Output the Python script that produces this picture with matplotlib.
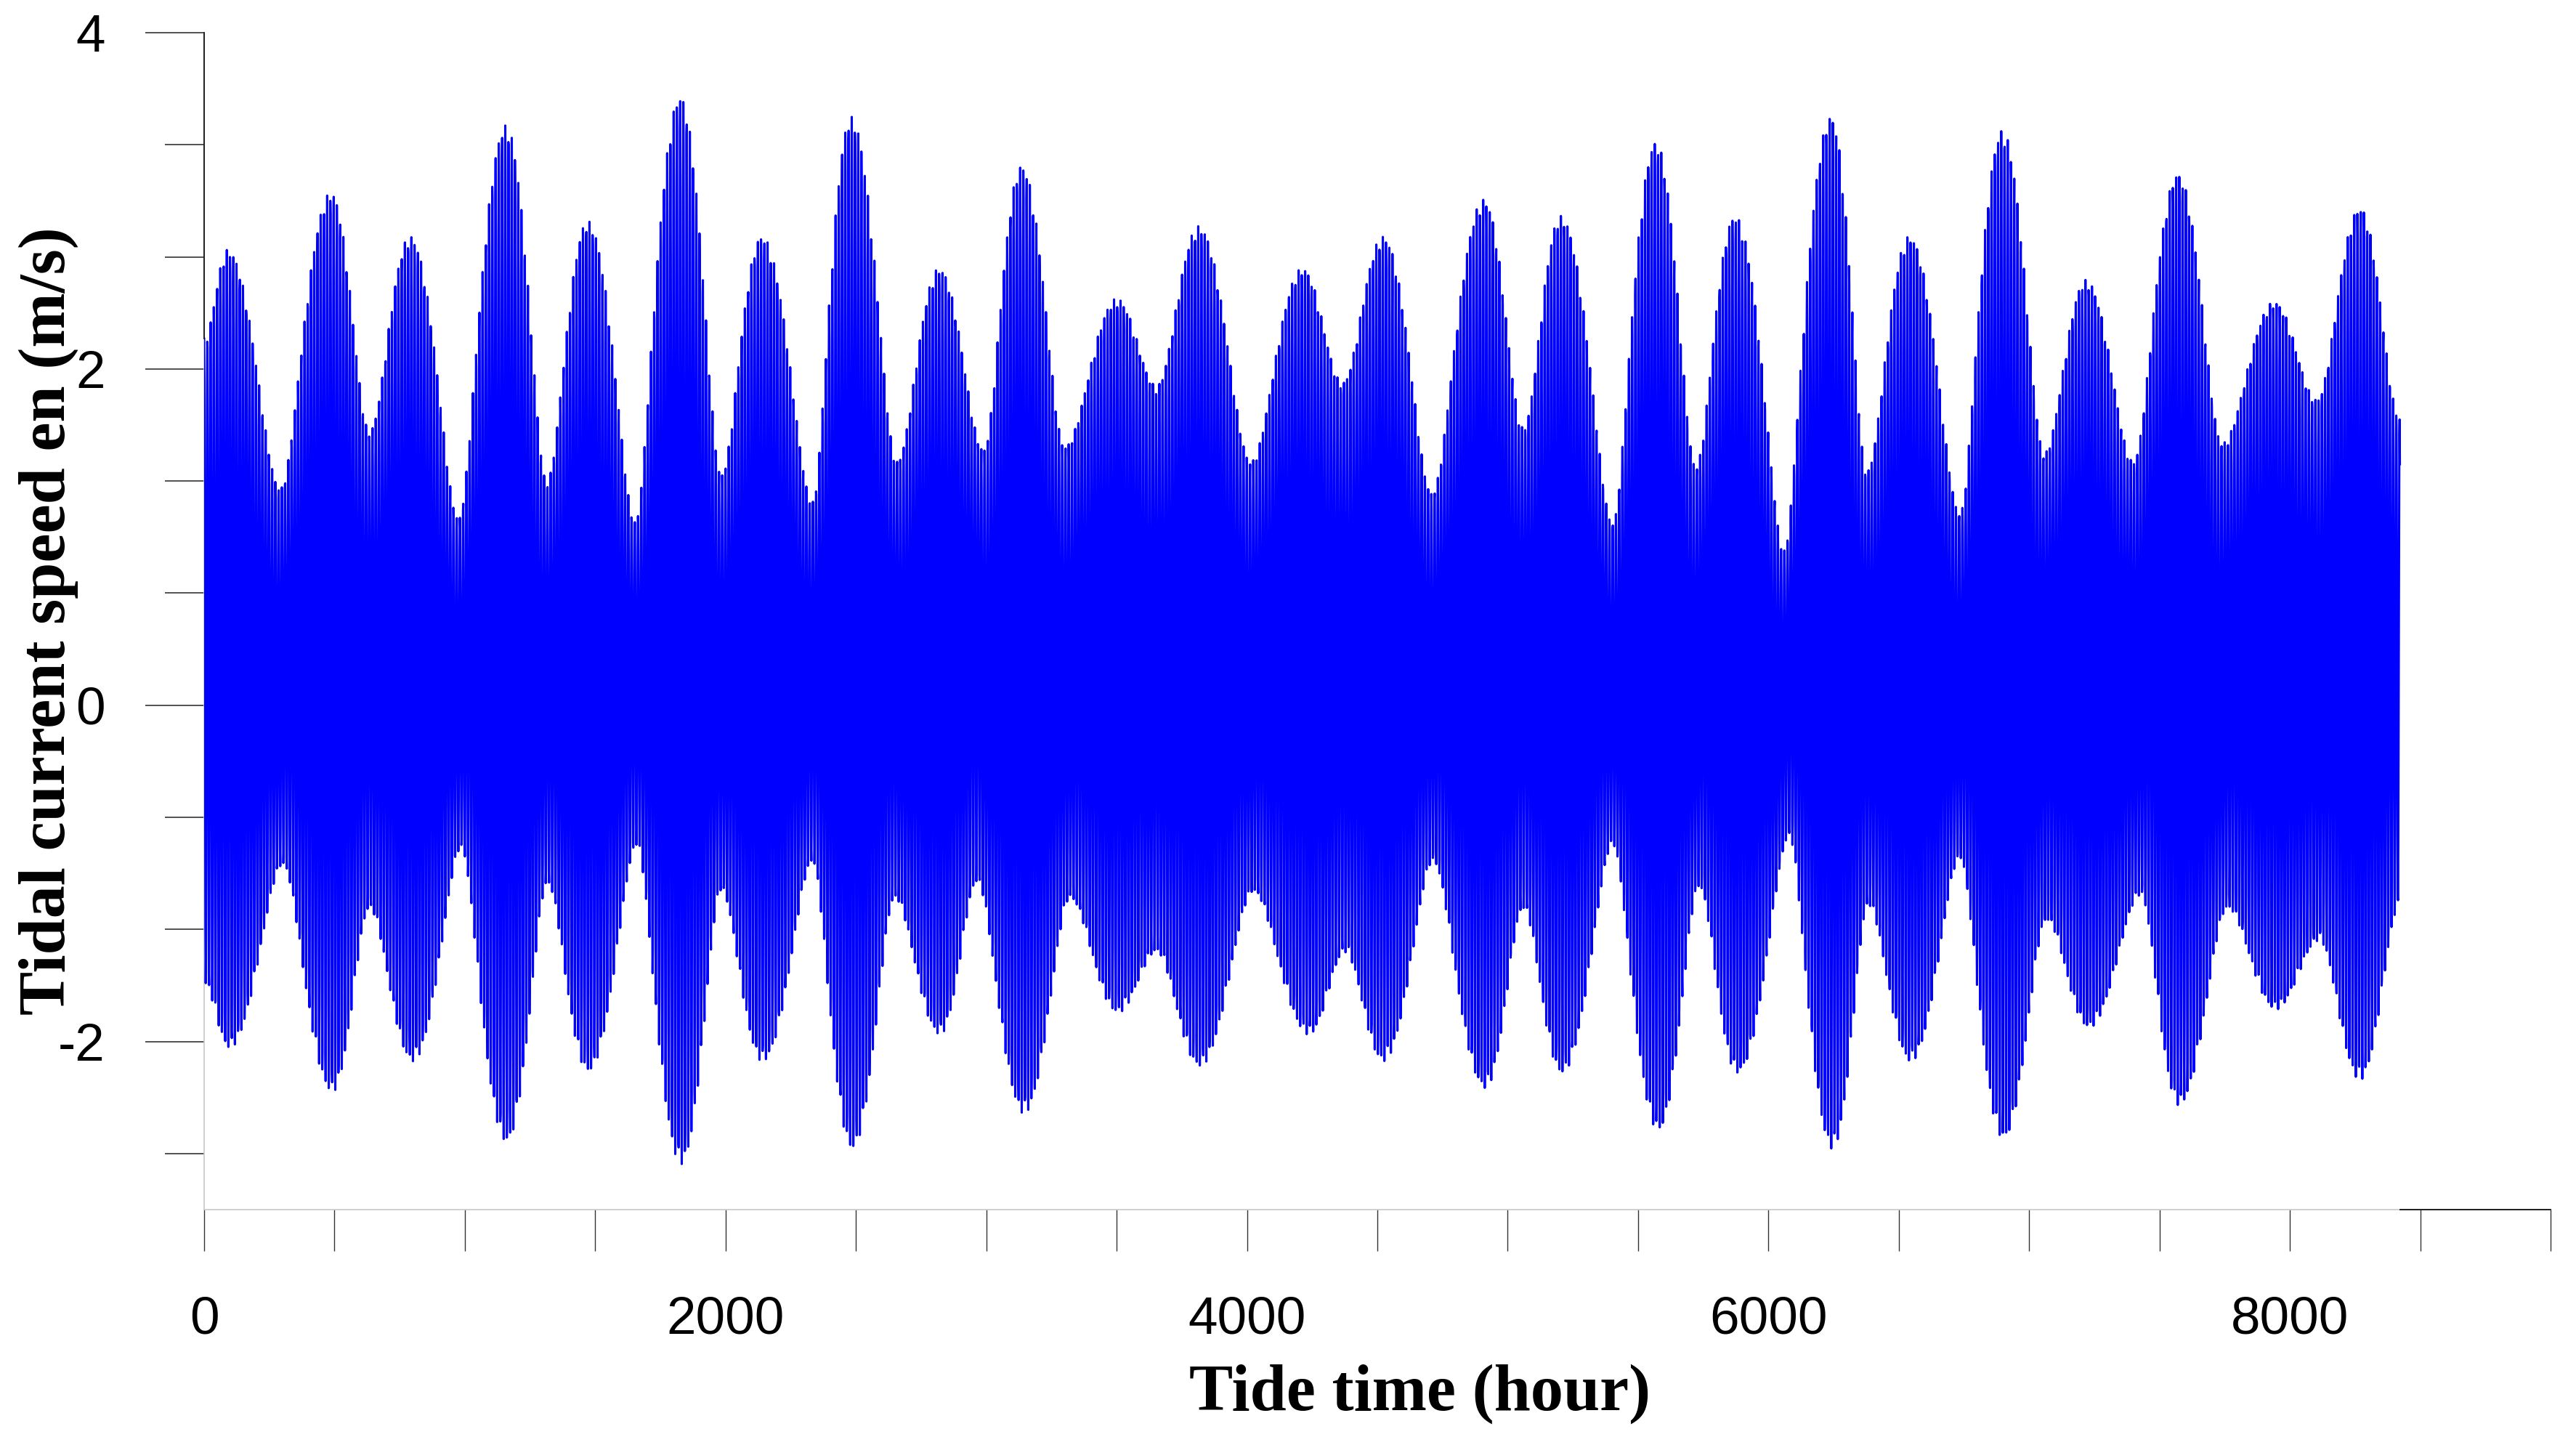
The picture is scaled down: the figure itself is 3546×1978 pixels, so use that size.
import numpy as np
import matplotlib
matplotlib.use("Agg")
import matplotlib.pyplot as plt
from matplotlib.ticker import FixedLocator, NullFormatter, FixedFormatter

# ---------------- data ----------------
# Upper envelope of the hourly tidal current (alternating spring peaks / neap dips)
upper_hours = [0, 90, 292, 487, 634, 790, 976, 1158, 1314, 1471, 1654, 1826, 1983,
               2139, 2334, 2481, 2657, 2819, 2990, 3135, 3301, 3502, 3653, 3815,
               4015, 4213, 4366, 4522, 4709, 4909, 5060, 5203, 5403, 5568, 5721,
               5871, 6060, 6240, 6377, 6540, 6735, 6897, 7058, 7218, 7400, 7570,
               7741, 7941, 8103, 8269, 8422]
upper_speed = [2.18, 2.71, 1.29, 3.05, 1.63, 2.79, 1.11, 3.45, 1.33, 2.88, 1.09, 3.62, 1.37,
               2.79, 1.21, 3.50, 1.45, 2.60, 1.52, 3.21, 1.54, 2.42, 1.90, 2.85,
               1.45, 2.60, 1.92, 2.79, 1.26, 3.01, 1.65, 2.91, 1.08, 3.35, 1.42,
               2.91, 0.92, 3.50, 1.39, 2.79, 1.14, 3.42, 1.50, 2.53, 1.45, 3.16,
               1.56, 2.40, 1.82, 2.96, 1.71]
# Lower envelope (ebb extremes / neap minima)
lower_hours = [0, 96, 302, 492, 634, 800, 986, 1160, 1317, 1473, 1660, 1830, 1983,
               2142, 2334, 2486, 2649, 2822, 2965, 3145, 3321, 3505, 3653, 3818,
               4024, 4239, 4376, 4522, 4714, 4914, 5060, 5207, 5403, 5578, 5734,
               5881, 6080, 6246, 6383, 6545, 6735, 6901, 7067, 7229, 7428, 7575,
               7761, 7946, 8113, 8269, 8422]
lower_speed = [-1.66, -2.04, -0.95, -2.30, -1.21, -2.12, -0.85, -2.60, -1.06, -2.18, -0.83, -2.73, -1.10,
               -2.12, -0.93, -2.64, -1.15, -1.96, -1.05, -2.43, -1.15, -1.83, -1.47, -2.15,
               -1.11, -1.96, -1.47, -2.12, -0.93, -2.28, -1.21, -2.19, -0.83, -2.53, -1.08,
               -2.19, -0.78, -2.64, -1.19, -2.12, -0.91, -2.58, -1.28, -1.92, -1.13, -2.38,
               -1.21, -1.81, -1.40, -2.23, -1.19]
record_end_hour = 8422
semidiurnal_period_h = 12.42

x_major_ticks = [0, 2000, 4000, 6000, 8000]
x_major_labels = ["0", "2000", "4000", "6000", "8000"]
y_major_ticks = [4, 2, 0, -2]
y_major_labels = ["4", "2", "0", "-2"]
x_label = "Tide time (hour)"
y_label = "Tidal current speed en (m/s)"


def beat_envelope(t, kt, kv):
    """Envelope between read keypoints, shaped like a two-constituent beat."""
    kt = np.asarray(kt, float)
    kv = np.abs(np.asarray(kv, float))
    idx = np.clip(np.searchsorted(kt, t, side="right") - 1, 0, len(kt) - 2)
    t0, t1 = kt[idx], kt[idx + 1]
    v0, v1 = kv[idx], kv[idx + 1]
    s = np.clip((t - t0) / (t1 - t0), 0, 1)
    hi = np.maximum(v0, v1)
    lo = np.minimum(v0, v1)
    phi = np.where(v0 >= v1, np.pi * s, np.pi * (1 - s))
    a = (hi + lo) / 2
    b = (hi - lo) / 2
    return np.sqrt(a * a + b * b + 2 * a * b * np.cos(phi))


hours = np.arange(0, record_end_hour + 1, 1.0)
upper = beat_envelope(hours, upper_hours, upper_speed)
lower = -beat_envelope(hours, lower_hours, lower_speed)
speed = (upper + lower) / 2 + (upper - lower) / 2 * np.cos(2 * np.pi * hours / semidiurnal_period_h)

# ---------------- figure ----------------
W, H, DPI = 3546, 1978, 100
fig = plt.figure(figsize=(W / DPI, H / DPI), dpi=DPI)
ax = fig.add_axes([281 / W, 1 - 1665 / H, (3511 - 281) / W, (1665 - 45) / H])

ax.plot(hours, speed, color="#0000ff", lw=2.2, zorder=3)

ax.set_xlim(0, 9000)
ax.set_ylim(-3, 4)

for s in ["top", "right"]:
    ax.spines[s].set_visible(False)
ax.spines["left"].set_color("#c8c8c8")
ax.spines["bottom"].set_color("#c8c8c8")
ax.spines["left"].set_linewidth(1.2)
ax.spines["bottom"].set_linewidth(1.2)
# black parts of the frame (outside the data extent)
ax.axvline(0, ymin=(upper_speed[0] + 3) / 7, ymax=1, color="#111111", lw=1.3, zorder=4, clip_on=False)
ax.axhline(-3, xmin=record_end_hour / 9000, xmax=1, color="#111111", lw=1.3, zorder=4, clip_on=False)

# x ticks
ax.xaxis.set_major_locator(FixedLocator(x_major_ticks))
ax.xaxis.set_major_formatter(FixedFormatter(x_major_labels))
ax.xaxis.set_minor_locator(FixedLocator([v for v in range(0, 9001, 500) if v not in x_major_ticks]))
ax.xaxis.set_minor_formatter(NullFormatter())
ax.tick_params(axis="x", which="both", direction="out", length=41, width=1.0, color="#333333")
ax.tick_params(axis="x", which="major", pad=44, labelsize=52.5)

# y ticks
y_all = [4 - k * 2 / 3 for k in range(11)]
ax.yaxis.set_major_locator(FixedLocator(y_major_ticks))
ax.yaxis.set_major_formatter(FixedFormatter(y_major_labels))
ax.yaxis.set_minor_locator(FixedLocator([v for v in y_all if min(abs(v - m) for m in y_major_ticks) > 1e-6]))
ax.yaxis.set_minor_formatter(NullFormatter())
ax.tick_params(axis="y", which="major", direction="out", length=58, width=1.2, color="#333333",
               pad=40, labelsize=52.5)
ax.tick_params(axis="y", which="minor", direction="out", length=39, width=1.2, color="#333333")

for lab in ax.get_xticklabels() + ax.get_yticklabels():
    lab.set_fontfamily(["Liberation Sans", "DejaVu Sans"])

ax.set_xlabel(x_label, fontfamily=["Liberation Serif", "DejaVu Serif"], fontweight="bold", fontsize=65)
ax.set_ylabel(y_label, fontfamily=["Liberation Serif", "DejaVu Serif"], fontweight="bold", fontsize=65)
ax.xaxis.set_label_coords(0.518, -0.131)
ax.yaxis.set_label_coords(-0.0537, 0.5)

fig.savefig("out.png", dpi=DPI, facecolor="white")
